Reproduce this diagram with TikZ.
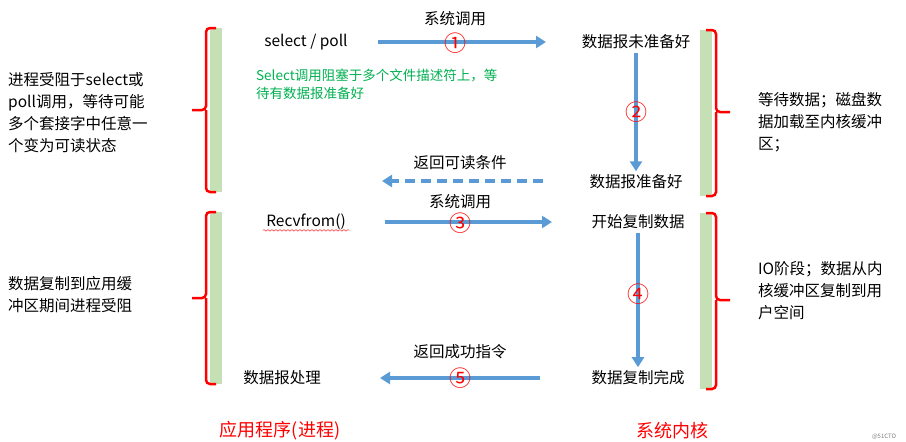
\documentclass[tikz,border=0pt]{standalone}
\usepackage{fontspec}
\setmainfont{Noto Sans CJK SC}
\usetikzlibrary{positioning}
\usetikzlibrary{arrows.meta}
\usetikzlibrary{decorations.pathmorphing}
\definecolor{flowblue}{RGB}{91,155,213}
\definecolor{barfill}{RGB}{197,224,180}
\definecolor{notegreen}{RGB}{0,176,80}
\begin{document}
\begin{tikzpicture}[x=1pt,y=-1pt,font=\fontsize{15.5}{22}\selectfont]
\tikzset{flow/.style={draw=flowblue,line width=4pt,-{Triangle[length=10pt,width=12pt]}},
  num/.style={text=red,font=\fontsize{22}{22}\selectfont,inner sep=0pt},
  brace/.style={draw=red,line width=2.5pt,rounded corners=4pt},
  bar/.style={fill=barfill,draw=none},
  side/.style={align=left,anchor=north west,inner sep=0pt}}
\useasboundingbox (0,0) rectangle (906,442);
% left braces
\fill[bar] (210,28) rectangle (222,192);
\draw[brace] (216,28) -- (206,28) -- (206,110) -- (192,110) (206,110) -- (206,192) -- (216,192);
\fill[bar] (210,212) rectangle (222,384);
\draw[brace] (216,212) -- (206,212) -- (206,298) -- (192,298) (206,298) -- (206,384) -- (216,384);
% right braces
\fill[bar] (700,30) rectangle (712,196);
\draw[brace] (706,30) -- (716,30) -- (716,112) -- (730,112) (716,112) -- (716,196) -- (706,196);
\fill[bar] (700,213) rectangle (712,389);
\draw[brace] (706,213) -- (716,213) -- (716,300) -- (730,300) (716,300) -- (716,389) -- (706,389);

% process side
\node (sel) at (306,42) {select / poll};
\node (recv) at (306,222) {Recvfrom()};
\draw[red,decorate,decoration={snake,amplitude=0.8pt,segment length=4pt}] ([yshift=3pt]recv.south west) -- ([yshift=3pt]recv.south east);
\node (proc) at (282,378) {数据报处理};
\node[side,text=notegreen,text width=300pt,font=\fontsize{13.5}{18}\selectfont] (note) at (256,69) {Select调用阻塞于多个文件描述符上，等\\待有数据报准备好};

% kernel side
\node (notready) at (636,42) {数据报未准备好};
\node (ready) at (636,182) {数据报准备好};
\node (copy) at (638,222) {开始复制数据};
\node (done) at (638,378) {数据复制完成};

% arrows
\coordinate (s1) at (378,42);  \coordinate (e1) at (546,42);
\coordinate (s3) at (385,222); \coordinate (e3) at (552,222);
\coordinate (s5) at (540,378); \coordinate (e5) at (380,378);
\coordinate (sr) at (543,181); \coordinate (er) at (382,181);
\draw[flow] (s1) -- (e1);
\node at (455,19) {系统调用};
\node[num] at (455,43) {①};
\draw[flow] (notready.south) -- (ready.north);
\node[num] at (636,112) {②};
\draw[flow,dash pattern=on 10pt off 6pt] (sr) -- (er);
\node at (460,163) {返回可读条件};
\draw[flow] (s3) -- (e3);
\node at (460,202) {系统调用};
\node[num] at (460,223) {③};
\draw[flow] (copy.south) -- (done.north);
\node[num] at (638,294) {④};
\draw[flow] (s5) -- (e5);
\node at (460,352) {返回成功指令};
\node[num] at (460,378) {⑤};

% side notes
\node[side] (lt) at (8,72) {进程受阻于select或\\poll调用，等待可能\\多个套接字中任意一\\个变为可读状态};
\node[side] (lb) at (8,276) {数据复制到应用缓\\冲区期间进程受阻};
\node[side] (rt) at (758,92) {等待数据；磁盘数\\据加载至内核缓冲\\区；};
\node[side] (rb) at (758,261) {IO阶段；数据从内\\核缓冲区复制到用\\户空间};

% titles
\node[text=red,font=\fontsize{18}{20}\selectfont] (app) at (280,431) {应用程序(进程)};
\node[text=red,font=\fontsize{18}{20}\selectfont] (kern) at (672,431) {系统内核};
\node[text=gray,font=\fontsize{6}{7}\selectfont] (wm) at (884,437) {@51CTO};
\end{tikzpicture}
\end{document}
